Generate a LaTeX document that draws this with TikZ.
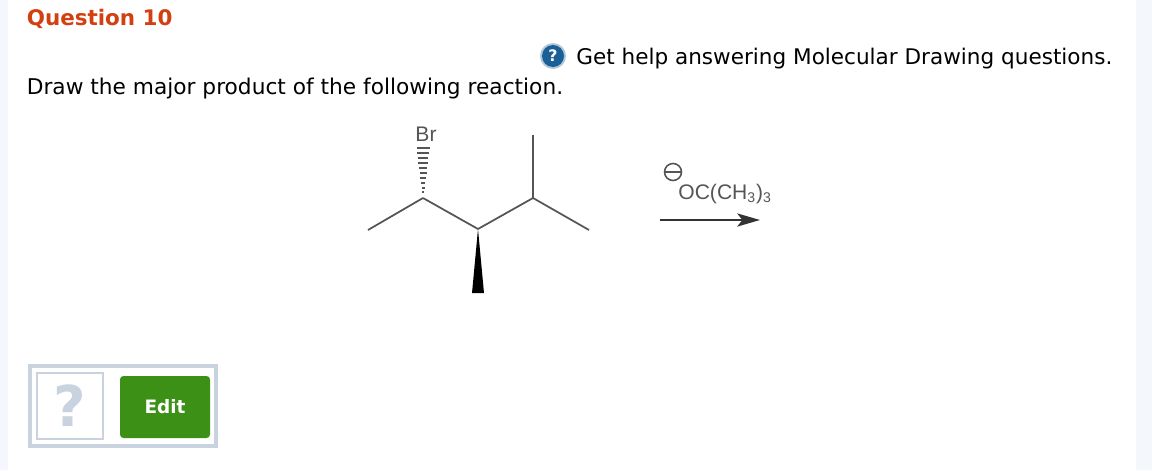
\documentclass[tikz,border=0pt]{standalone}
\usepackage{fontspec}
\usetikzlibrary{arrows.meta}
\setmainfont{DejaVu Sans}
\newfontfamily\chemfont{Liberation Sans}
\definecolor{pagetint}{HTML}{F4F8FC}
\definecolor{titlered}{HTML}{D23F11}
\definecolor{helpblue}{HTML}{1A5F96}
\definecolor{framegrey}{HTML}{C9D2DF}
\definecolor{editgreen}{HTML}{3C9016}
\definecolor{chemgrey}{HTML}{555555}
\begin{document}
\begin{tikzpicture}[x=0.02cm, y=-0.02cm,
    main/.style={inner sep=0pt, outer sep=0pt, minimum size=0pt},
    txt/.style={inner sep=0pt, anchor=base west, text=black, font=\fontsize{12.27}{15}\selectfont},
    chem/.style={inner sep=0pt, text=chemgrey, font=\chemfont\fontsize{12}{14}\selectfont},
    bond/.style={draw=chemgrey, line width=1pt}]

    \useasboundingbox (0,0) rectangle (1152,470);
    \fill[pagetint] (0,0) rectangle (8,470);
    \fill[pagetint] (1136,0) rectangle (1152,470);

    \node[txt, text=titlered, font=\bfseries\fontsize{12.2}{15}\selectfont] (title) at (26.5,26) {Question 10};
    \fill[helpblue!35] (553,56) circle (13);
    \fill[helpblue] (553,56) circle (11);
    \node[main, text=white, font=\bfseries\fontsize{9}{10}\selectfont] (helpmark) at (553,56) {?};
    \node[txt] (help) at (576,64) {Get help answering Molecular Drawing questions.};
    \node[txt, font=\fontsize{12.35}{15}\selectfont] (task) at (26.5,94) {Draw the major product of the following reaction.};

    % skeleton
    \node[main] (c1) at (368,230) {};
    \node[main] (c2) at (423,198) {};
    \node[main] (c3) at (478,229) {};
    \node[main] (c4) at (533,198) {};
    \node[main] (c5) at (533,135) {};
    \node[main] (c6) at (589,230) {};
    \node[chem] (br) at (426,134) {Br};
    \path[bond]
        (c1) edge (c2)
        (c2) edge (c3)
        (c3) edge (c4)
        (c4) edge (c5)
        (c4) edge (c6)
        ;
    \fill[black] (c3.center) -- (484,293) -- (472,293) -- cycle;
    \foreach \y/\w in {148/6.5, 153/6, 158/5.4, 163/4.8, 168/4.2, 173/3.5, 178/2.9, 183/2.2, 188/1.5, 192/1} {
        \draw[chemgrey, line width=0.9pt] (423-\w,\y) -- (423+\w,\y);
    }

    \node[main, draw=chemgrey, line width=0.9pt, circle, minimum size=17*0.02cm] (minus) at (673,172) {};
    \draw[chemgrey, line width=0.9pt] (minus.west) -- (minus.east);
    \node[chem, anchor=base west] (base) at (678,199) {OC(CH\textsubscript{3})\textsubscript{3}};
    \node[main] (arrowa) at (660,220) {};
    \node[main] (arrowb) at (760,220) {};
    \draw[-{Stealth[length=13pt,width=7.5pt,inset=3pt]}, black!80, line width=1pt] (arrowa) -- (arrowb);

    \draw[framegrey, line width=4*0.02cm] (30,366) rectangle (216,446);
    \node[main, draw=framegrey, line width=2*0.02cm, minimum width=66*0.02cm, minimum height=66*0.02cm,
          text=framegrey, font=\bfseries\fontsize{32}{32}\selectfont] (empty) at (70,406) {?};
    \node[main, fill=editgreen, rounded corners=2pt, minimum width=90*0.02cm, minimum height=62*0.02cm,
          text=white, font=\bfseries\fontsize{10.5}{12}\selectfont] (edit) at (165,407) {Edit};
\end{tikzpicture}
\end{document}
